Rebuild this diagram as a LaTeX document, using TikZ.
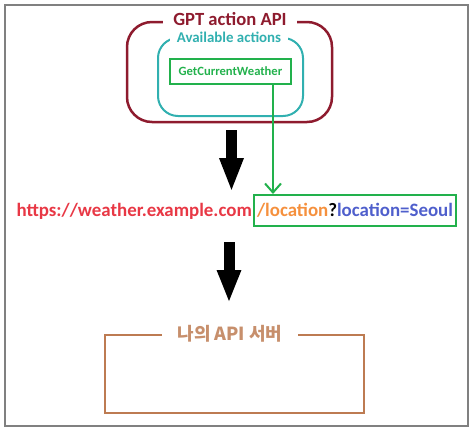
\documentclass[tikz,border=0pt]{standalone}
\usepackage{fontspec}
\setmainfont{Carlito}
\newfontfamily\kofont{Noto Sans CJK KR}
\usepackage[HTML]{xcolor}
\usetikzlibrary{positioning, arrows.meta}
\definecolor{apired}{HTML}{8E1B2E}
\definecolor{actteal}{HTML}{31B0B0}
\definecolor{fngreen}{HTML}{22B14C}
\definecolor{urlred}{HTML}{E83845}
\definecolor{locorange}{HTML}{F5903D}
\definecolor{qblue}{HTML}{4F5FCC}
\definecolor{srvbrown}{HTML}{BD7B52}
\definecolor{framegray}{HTML}{808080}

\begin{document}
\begin{tikzpicture}[x=1pt, y=-1pt,
  boxtitle/.style={fill=white, font=\bfseries, inner ysep=1pt},
  bigarrow/.style={line width=11pt, -{Triangle[length=34pt, width=22pt]}},
  urltext/.style={font=\fontsize{18.9}{22}\selectfont\bfseries}]
\useasboundingbox (0,0) rectangle (474,432);
% Frame
\draw[framegray, line width=2pt] (5,5) rectangle (468,426);

% GPT action API
\draw[apired, line width=2.5pt, rounded corners=25pt] (127,22) rectangle (332,122);
\node[boxtitle, text=apired, inner xsep=10pt, font=\fontsize{18.6}{21}\selectfont\bfseries] (gpt) at (230,19) {GPT action API};

% Available actions
\draw[actteal, line width=2pt, rounded corners=20pt] (158,38) rectangle (303,116);
\node[boxtitle, text=actteal, inner xsep=7pt, font=\fontsize{14.9}{17}\selectfont\bfseries] (avail) at (229,37) {Available actions};
\node[draw=fngreen, line width=2pt, text=fngreen, font=\fontsize{12.6}{14}\selectfont\bfseries,
  minimum width=121pt, minimum height=25pt, inner sep=0pt] (getw) at (230.5,71.5) {GetCurrentWeather};

% Request URL
\node[urltext, draw=fngreen, line width=2pt, anchor=east, minimum height=31pt, inner xsep=3pt] (query) at (457,210.5)
  {\textcolor{locorange}{/location}?\textcolor{qblue}{location=Seoul}};
\node[urltext, text=urlred, anchor=base east, inner xsep=1pt] (host) at (query.base west) {https://weather.example.com};

% Green link
\coordinate (drop) at (273,100);
\draw[fngreen, line width=2pt, -{Straight Barb[length=9pt, width=16pt]}] (getw.south -| drop) -- (query.north -| drop);

% My API server
\draw[srvbrown, line width=2pt] (105,335) rectangle (364,413);
\node[boxtitle, text=srvbrown!85!white, inner xsep=15pt, font=\kofont\fontsize{18}{21}\selectfont\bfseries] (server) at (230,334) {나의 API 서버};

% Flow arrows
\coordinate (flowa) at (231.5,130);
\coordinate (flowaend) at (231.5,192);
\coordinate (flowb) at (229,242);
\coordinate (flowbend) at (229,303);
\draw[bigarrow] (flowa) -- (flowaend);
\draw[bigarrow, -{Triangle[length=33pt, width=22pt]}] (flowb) -- (flowbend);
\end{tikzpicture}
\end{document}
